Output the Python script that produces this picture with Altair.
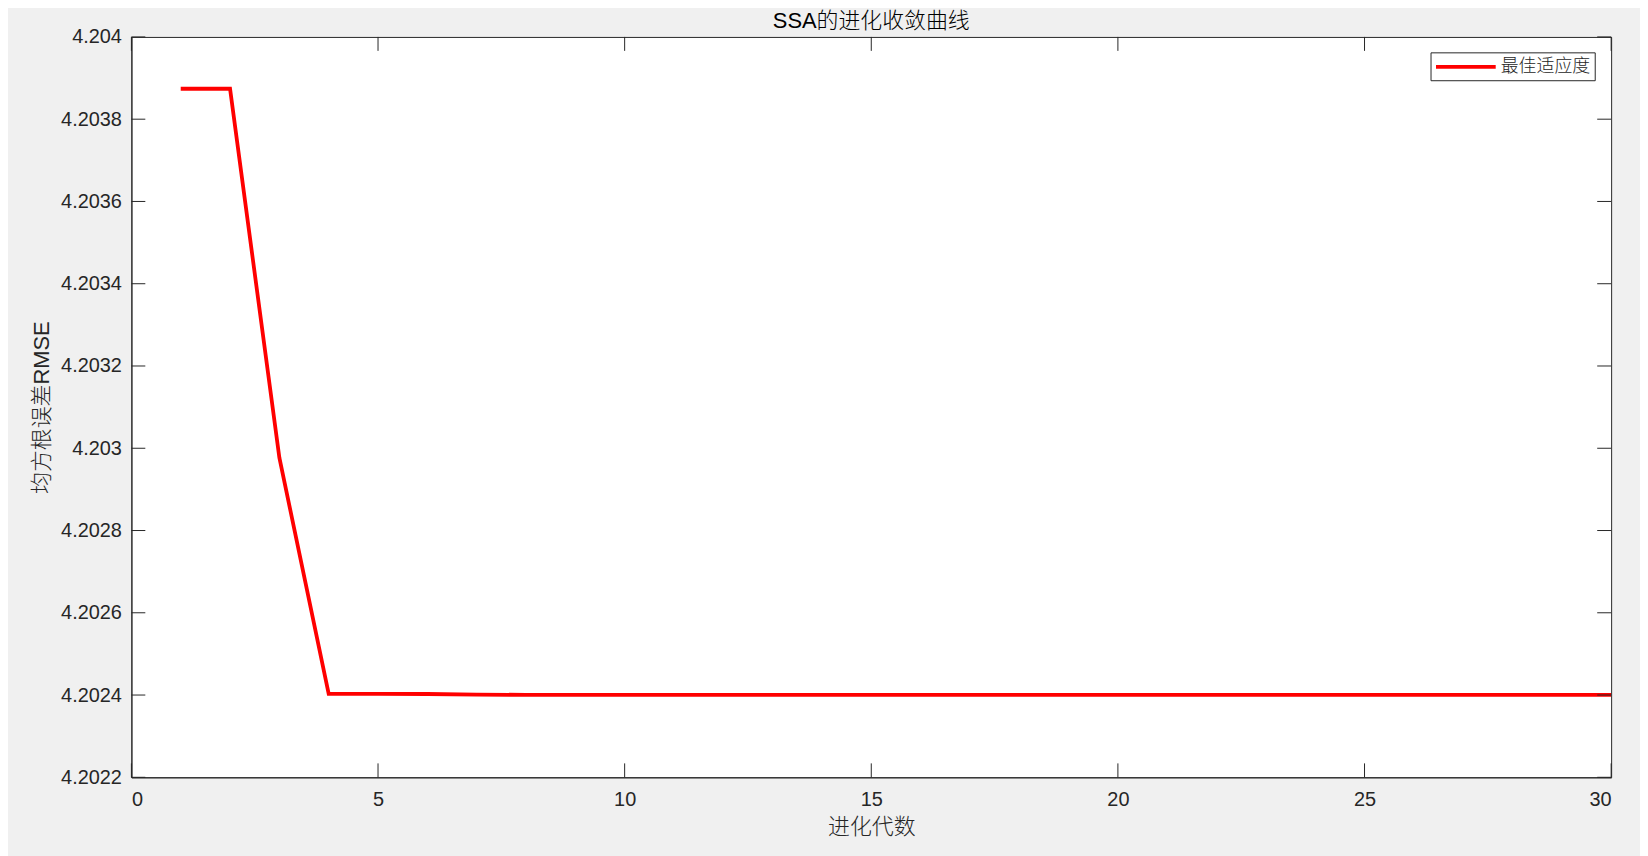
import altair as alt
import pandas as pd

# ---- data ----
generations = [1, 2, 3, 4, 5, 6, 7, 8, 9, 10, 11, 12, 13, 14, 15,
               16, 17, 18, 19, 20, 21, 22, 23, 24, 25, 26, 27, 28, 29, 30]
best_fitness = [4.203874, 4.203874, 4.202977, 4.202403, 4.202403, 4.2024025,
                4.202401, 4.2024005, 4.2024005, 4.2024005, 4.2024005, 4.2024005,
                4.2024005, 4.2024005, 4.2024005, 4.2024005, 4.2024005, 4.2024005,
                4.2024005, 4.2024005, 4.2024005, 4.2024005, 4.2024005, 4.2024005,
                4.2024005, 4.2024005, 4.2024005, 4.2024005, 4.2024005, 4.2024005]
series_name = ["最佳适应度"]
chart_title = ["SSA的进化收敛曲线"]
x_ticks = [0, 5, 10, 15, 20, 25, 30]
y_ticks = [4.2022, 4.2024, 4.2026, 4.2028, 4.203, 4.2032, 4.2034, 4.2036, 4.2038, 4.204]

W, H = 1487, 744
TICK = 14
FONT = "Liberation Sans, Arial, Noto Sans CJK SC"
CJK = "Noto Sans CJK SC, Liberation Sans"
INK = "#262626"
RED = "#ff0000"

df = pd.DataFrame({"gen": generations, "fit": best_fitness})
xt = pd.DataFrame({"gen": x_ticks})
yt = pd.DataFrame({"fit": y_ticks})
leg = pd.DataFrame({"s": series_name})
ttl = pd.DataFrame({"t": chart_title})

xscale = alt.Scale(domain=[0, 30], nice=False, zero=False)
yscale = alt.Scale(domain=[4.2022, 4.204], nice=False, zero=False)

line = alt.Chart(df).mark_line(strokeWidth=3.8, color=RED, clip=True).encode(
    x=alt.X("gen:Q", scale=xscale,
            axis=alt.Axis(values=x_ticks, title="进化代数", ticks=False, grid=False,
                          labelFontSize=20, labelFont=FONT, labelColor=INK,
                          labelPadding=12, domainColor=INK,
                          titleFont=CJK, titleFontSize=22, titleFontWeight=300,
                          titleColor=INK, titlePadding=7)),
    y=alt.Y("fit:Q", scale=yscale,
            axis=alt.Axis(values=y_ticks, format=".5~g", title="均方根误差RMSE", ticks=False,
                          grid=False, labelFontSize=20, labelFont=FONT, labelColor=INK,
                          labelPadding=10, domainColor=INK,
                          titleFont=FONT, titleFontSize=22, titleFontWeight=300,
                          titleColor=INK, titlePadding=7)),
)

xtick_bottom = alt.Chart(xt).mark_rule(color=INK, strokeWidth=1).encode(
    x=alt.X("gen:Q", scale=xscale),
    y=alt.value(H), y2=alt.value(H - TICK))
xtick_top = alt.Chart(xt).mark_rule(color=INK, strokeWidth=1).encode(
    x=alt.X("gen:Q", scale=xscale),
    y=alt.value(0), y2=alt.value(TICK))
ytick_left = alt.Chart(yt).mark_rule(color=INK, strokeWidth=1).encode(
    y=alt.Y("fit:Q", scale=yscale),
    x=alt.value(0), x2=alt.value(TICK))
ytick_right = alt.Chart(yt).mark_rule(color=INK, strokeWidth=1).encode(
    y=alt.Y("fit:Q", scale=yscale),
    x=alt.value(W - TICK), x2=alt.value(W))

# legend box (top-right, inside the plot)
LX, LY, LW, LH = 1306, 16, 165, 28
leg_box = alt.Chart(leg).mark_rect(fill="white", stroke=INK, strokeWidth=1).encode(
    x=alt.value(LX), x2=alt.value(LX + LW), y=alt.value(LY), y2=alt.value(LY + LH))
leg_line = alt.Chart(leg).mark_rule(color=RED, strokeWidth=3.8).encode(
    x=alt.value(LX + 5), x2=alt.value(LX + 65), y=alt.value(LY + 14))
leg_text = alt.Chart(leg).mark_text(font=CJK, fontSize=18, fontWeight=300, color=INK,
                                    align="left", baseline="middle").encode(
    x=alt.value(LX + 70), y=alt.value(LY + 14), text="s:N")

# chart title (drawn as text just above the plot)
title_text = alt.Chart(ttl).mark_text(font=FONT, fontSize=22, fontWeight=300, color="#000000",
                                      align="center", baseline="alphabetic").encode(
    x=alt.value(W / 2), y=alt.value(-9), text="t:N")

chart = alt.layer(line, xtick_bottom, xtick_top, ytick_left, ytick_right,
                  leg_box, leg_line, leg_text, title_text).properties(
    width=W, height=H,
    background="#f0f0f0",
    padding={"left": 124, "top": 27, "right": 29, "bottom": 77},
    autosize=alt.AutoSizeParams(type="none"),
).configure_view(
    fill="white", stroke=INK, strokeWidth=1
)

chart.save("out.html", embed_options={"renderer": "svg", "actions": False})
